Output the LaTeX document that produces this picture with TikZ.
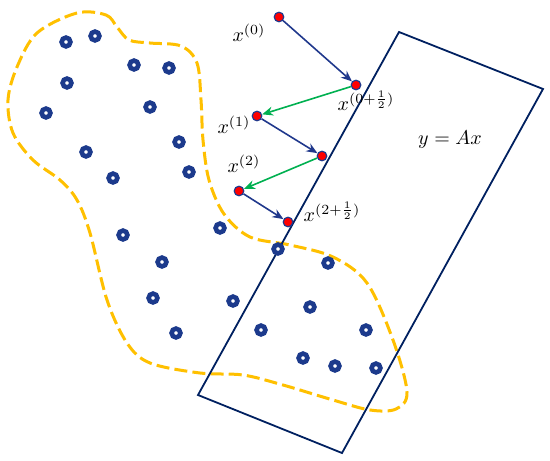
\documentclass[tikz,border=0pt]{standalone}
\usepackage{amsmath}
\usetikzlibrary{arrows.meta}
\definecolor{navy}{RGB}{0,32,96}
\definecolor{ringblue}{RGB}{28,58,140}
\definecolor{arrowblue}{RGB}{32,56,140}
\definecolor{gold}{RGB}{255,192,0}
\definecolor{projgreen}{RGB}{0,176,80}
\tikzset{
	ring/.style={draw=ringblue, fill=white, line width=2.3pt},
	iterdot/.style={circle, draw=arrowblue, fill=red, line width=0.6pt, inner sep=0pt, minimum size=4.8pt},
	steparrow/.style={-{Stealth[length=5.5pt,width=4.5pt]}, arrowblue, line width=0.8pt},
	projarrow/.style={-{Stealth[length=5.5pt,width=4.5pt]}, projgreen, line width=0.8pt},
}
\begin{document}
\begin{tikzpicture}[x=0.5pt,y=-0.5pt]
			\useasboundingbox (0,0) rectangle (550,460);
			% dashed region of the points
			\draw[gold, line width=1.5pt, dash pattern=on 6.5pt off 2.6pt, tension=0.55] plot[smooth cycle] coordinates {
				(77,13) (106,15) (117,27) (129,40) (150,43) (181,46) (197,63) (201,100)
				(203,140) (209,180) (224,214) (250,237) (290,245) (333,257) (367,283)
				(393,340) (407,392) (396,409) (370,410) (333,400) (283,385) (243,375)
				(200,373) (150,363) (127,343) (107,300) (90,233) (77,200) (60,180)
				(33,160) (13,133) (8,100) (17,67) (37,33)};
			% the set y = Ax
			\draw[navy, line width=0.9pt] (399,32) -- (543,89) -- (342,453) -- (198,395) -- cycle;
			\node (eq) at (450,140) {$y = Ax$};
			% data points
			\foreach \px/\py in {66/42, 95/36, 134/65, 169/68, 67/83, 46/113, 150/107, 179/142, 86/152,
				189/172, 113/178, 220/228, 123/235, 162/262, 153/298, 176/333, 233/301, 261/330,
				278/249, 328/263, 310/307, 366/330, 303/358, 335/366, 376/368}
				\draw[ring] (\px,\py) circle (2.2pt);
			% iterates
			\node[iterdot] (X0) at (279,17) {};
			\node[iterdot] (X0h) at (356,85) {};
			\node[iterdot] (X1) at (257,116) {};
			\node[iterdot] (X1h) at (322,156) {};
			\node[iterdot] (X2) at (239,191) {};
			\node[iterdot] (X2h) at (288,222) {};
			\node (LX0) at (249,33) {$x^{(0)}$};
			\node (LX0h) at (366,101) {$x^{(0+\frac{1}{2})}$};
			\node (LX1) at (234,125) {$x^{(1)}$};
			\node (LX2) at (244,164) {$x^{(2)}$};
			\node (LX2h) at (332,212) {$x^{(2+\frac{1}{2})}$};
			\draw[steparrow] (X0) -- (X0h);
			\draw[projarrow] (X0h) -- (X1);
			\draw[steparrow] (X1) -- (X1h);
			\draw[projarrow] (X1h) -- (X2);
			\draw[steparrow] (X2) -- (X2h);
		\end{tikzpicture}
\end{document}
